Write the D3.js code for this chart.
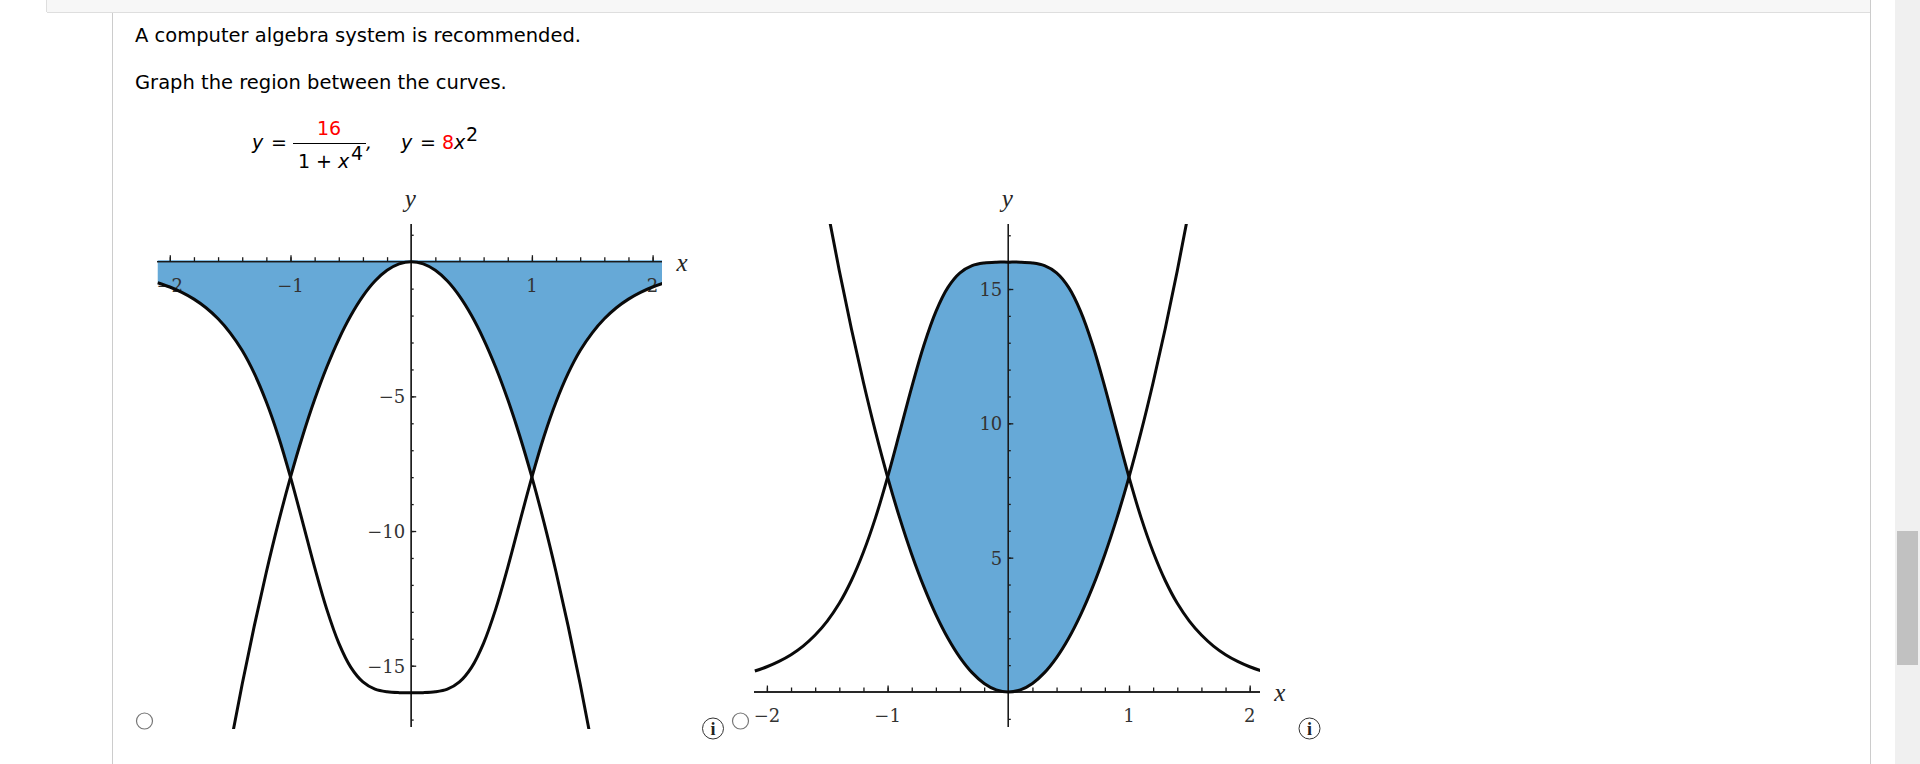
<!DOCTYPE html>
<html>
<head>
<meta charset="utf-8">
<script src="https://cdn.jsdelivr.net/npm/d3@7"></script>
<style>
html, body { margin: 0; padding: 0; background: #fff; overflow: hidden; }
svg { display: block; }
.page-text { font-family: "DejaVu Sans", sans-serif; font-size: 19.5px; fill: #000; }
.math-text { font-size: 19px; }
.red { fill: #f00; }
.math-var { font-style: italic; }
.plot-label { font-family: "DejaVu Serif", serif; font-size: 18px; fill: #333; }
.axis-name { font-family: "Liberation Serif", serif; font-size: 25px; font-style: italic; fill: #262626; }
.axis path, .axis line { stroke: #1a1a1a; stroke-width: 1.3; shape-rendering: geometricPrecision; }
.axis text { display: none; }
</style>
</head>
<body>
<svg id="page" width="1920" height="764"></svg>
<script>
// values
const bellX = [-2.1, -2, -1.9, -1.8, -1.7, -1.6, -1.5, -1.4, -1.3, -1.2, -1.1, -1, -0.9, -0.8, -0.7, -0.6, -0.5, -0.4, -0.3, -0.2, -0.1, 0,
    0.1, 0.2, 0.3, 0.4, 0.5, 0.6, 0.7, 0.8, 0.9, 1, 1.1, 1.2, 1.3, 1.4, 1.5, 1.6, 1.7, 1.8, 1.9, 2, 2.1];
const bellY = [0.78, 0.94, 1.14, 1.39, 1.71, 2.12, 2.64, 3.3, 4.15, 5.21, 6.49, 8, 9.66, 11.35, 12.9, 14.16, 15.06, 15.6, 15.87, 15.97, 16, 16,
    16, 15.97, 15.87, 15.6, 15.06, 14.16, 12.9, 11.35, 9.66, 8, 6.49, 5.21, 4.15, 3.3, 2.64, 2.12, 1.71, 1.39, 1.14, 0.94, 0.78];
const parabolaX = [-1.6, -1.5, -1.4, -1.3, -1.2, -1.1, -1, -0.9, -0.8, -0.7, -0.6, -0.5, -0.4, -0.3, -0.2, -0.1, 0,
    0.1, 0.2, 0.3, 0.4, 0.5, 0.6, 0.7, 0.8, 0.9, 1, 1.1, 1.2, 1.3, 1.4, 1.5, 1.6];
const parabolaY = [20.5, 18, 15.68, 13.52, 11.52, 9.68, 8, 6.48, 5.12, 3.92, 2.88, 2, 1.28, 0.72, 0.32, 0.08, 0,
    0.08, 0.32, 0.72, 1.28, 2, 2.88, 3.92, 5.12, 6.48, 8, 9.68, 11.52, 13.52, 15.68, 18, 20.5];

const xMajorTicks = [-2, -1, 1, 2];
const xMinorTicks = [-2, -1.8, -1.6, -1.4, -1.2, -1, -0.8, -0.6, -0.4, -0.2, 0.2, 0.4, 0.6, 0.8, 1, 1.2, 1.4, 1.6, 1.8, 2];
const leftYMajor = [-5, -10, -15];
const leftYMinor = [1, -1, -2, -3, -4, -5, -6, -7, -8, -9, -10, -11, -12, -13, -14, -15, -16, -17];
const rightYMajor = [5, 10, 15];
const rightYMinor = [-1, 1, 2, 3, 4, 5, 6, 7, 8, 9, 10, 11, 12, 13, 14, 15, 16, 17];

const svg = d3.select("#page");
const minus = v => String(v).replace("-", "\u2212");

function drawPageFrame() {
    svg.append("rect").attr("x", 47).attr("y", 0).attr("width", 1823).attr("height", 12).attr("fill", "#f7f7f7");
    svg.append("line").attr("x1", 47).attr("x2", 1871).attr("y1", 12.5).attr("y2", 12.5).attr("stroke", "#dedede");
    svg.append("line").attr("x1", 46.5).attr("x2", 46.5).attr("y1", 0).attr("y2", 12).attr("stroke", "#dedede");
    svg.append("line").attr("x1", 1870.5).attr("x2", 1870.5).attr("y1", 0).attr("y2", 764).attr("stroke", "#cccccc");
    svg.append("line").attr("x1", 112.5).attr("x2", 112.5).attr("y1", 13).attr("y2", 764).attr("stroke", "#cccccc");
    svg.append("rect").attr("x", 1895).attr("y", 0).attr("width", 25).attr("height", 764).attr("fill", "#f0f0f0");
    svg.append("rect").attr("x", 1897).attr("y", 531).attr("width", 21).attr("height", 134).attr("fill", "#c1c1c1");
}

function drawQuestionText() {
    const text = (x, y, str) => svg.append("text").attr("class", "page-text").attr("x", x).attr("y", y).text(str);
    const math = (x, y, str) => text(x, y, str).classed("math-text", true);

    text(135, 42, "A computer algebra system is recommended.");
    text(135, 89, "Graph the region between the curves.");

    math(252, 149, "y").classed("math-var", true);
    math(271, 149, "=");
    math(317, 135, "16").classed("red", true);
    svg.append("line").attr("x1", 293).attr("x2", 366).attr("y1", 143.5).attr("y2", 143.5).attr("stroke", "#000");
    math(298, 168, "1");
    math(316, 168, "+");
    math(338, 168, "x").classed("math-var", true);
    math(351, 160, "4");
    math(366, 149, ",").classed("math-var", true);

    math(401, 149, "y").classed("math-var", true);
    math(420, 149, "=");
    math(442, 149, "8").classed("red", true);
    math(454, 149, "x").classed("math-var", true);
    math(466, 141, "2");
}

function drawPlot(cfg) {
    const xScale = d3.scaleLinear().domain([-1, 1]).range([cfg.x0 - cfg.xUnit, cfg.x0 + cfg.xUnit]);
    const yScale = d3.scaleLinear().domain(cfg.yRefDomain).range(cfg.yRefRange);
    const g = svg.append("g");

    const clipId = `clip-${cfg.id}`;
    svg.append("clipPath").attr("id", clipId).append("rect")
    .attr("x", cfg.left).attr("y", 224)
    .attr("width", cfg.right - cfg.left).attr("height", 505);

    // shaded region
    const area = d3.area().x(d => xScale(d.x)).y0(d => yScale(d.y0)).y1(d => yScale(d.y1));
    g.append("path").datum(cfg.region).attr("fill", "#66a9d7").attr("clip-path", `url(#${clipId})`).attr("d", area);

    // tick labels go under the curves
    g.selectAll(".x-label").data(xMajorTicks).join("text").attr("class", "plot-label")
    .attr("x", d => xScale(d)).attr("y", cfg.xLabelY).attr("text-anchor", "middle").text(minus);
    g.selectAll(".y-label").data(cfg.yMajor).join("text").attr("class", "plot-label")
    .attr("x", cfg.x0 - 6).attr("y", d => yScale(d) + 7).attr("text-anchor", "end").text(minus);

    const xAxisY = yScale(0);
    const xAxisMinor = d3.axisTop(xScale).tickValues(xMinorTicks).tickSize(4.5).tickSizeOuter(0);
    const xAxisMajor = d3.axisTop(xScale).tickValues(xMajorTicks).tickSize(6.5).tickSizeOuter(0);
    const yAxisMinor = d3.axisRight(yScale).tickValues(cfg.yMinor).tickSize(2.5).tickSizeOuter(0);
    const yAxisMajor = d3.axisRight(yScale).tickValues(cfg.yMajor).tickSize(5).tickSizeOuter(0);

    [xAxisMinor, xAxisMajor].forEach(axis => {
        g.append("g").attr("class", "axis").attr("transform", `translate(0,${xAxisY})`).call(axis)
        .select(".domain").attr("d", `M${cfg.left},0H${cfg.right}`);
    });
    [yAxisMinor, yAxisMajor].forEach(axis => {
        g.append("g").attr("class", "axis").attr("transform", `translate(${cfg.x0},0)`).call(axis)
        .select(".domain").attr("d", "M0,224V727");
    });

    // the two curves
    const line = d3.line().x(d => xScale(d[0])).y(d => yScale(d[1])).curve(d3.curveCatmullRom);
    const plotLines = g.append("g").attr("clip-path", `url(#${clipId})`);
    plotLines.selectAll("path").data(cfg.curves).join("path")
    .attr("fill", "none").attr("stroke", "#0a0a0a").attr("stroke-width", 3).attr("d", line);

    // axis names
    g.append("text").attr("class", "axis-name").attr("x", cfg.x0 + cfg.xUnit * 2 + cfg.xNameGap).attr("y", xAxisY + 9).text("x");
    g.append("text").attr("class", "axis-name").attr("x", cfg.x0 - 1).attr("y", 207).attr("text-anchor", "middle").text("y");
}

function drawRadio(cx, cy) {
    svg.append("circle").attr("cx", cx).attr("cy", cy).attr("r", 8)
    .attr("fill", "#fff").attr("stroke", "#767676").attr("stroke-width", 1.2);
}

function drawInfo(cx, cy) {
    svg.append("circle").attr("cx", cx).attr("cy", cy).attr("r", 10.5)
    .attr("fill", "#fff").attr("stroke", "#333").attr("stroke-width", 1);
    svg.append("text").attr("x", cx).attr("y", cy + 6).attr("text-anchor", "middle")
    .attr("font-family", "Liberation Serif, serif").attr("font-weight", "bold").attr("font-size", 18)
    .attr("fill", "#222").text("i");
}

const bellPairs = bellX.map((x, i) => [x, bellY[i]]);
const parabolaPairs = parabolaX.map((x, i) => [x, parabolaY[i]]);
const lowerEnvelope = bellX.map((x, i) => {
    const j = parabolaX.indexOf(x);
    return { x, low: j < 0 ? bellY[i] : Math.min(bellY[i], parabolaY[j]), high: bellY[i] };
});

drawPageFrame();
drawQuestionText();

drawPlot({
    id: "left", x0: 411.2, xUnit: 120.7, left: 157, right: 662, xNameGap: 24,
    yRefDomain: [0, -15], yRefRange: [261.7, 665.7], xLabelY: 292,
    yMajor: leftYMajor, yMinor: leftYMinor,
    curves: [bellPairs.map(d => [d[0], -d[1]]), parabolaPairs.map(d => [d[0], -d[1]])],
    region: lowerEnvelope.map(d => ({ x: d.x, y0: 0.05, y1: -d.low }))
});

drawPlot({
    id: "right", x0: 1008.3, xUnit: 120.7, left: 754, right: 1260, xNameGap: 24.5,
    yRefDomain: [0, 15], yRefRange: [692, 289], xLabelY: 722,
    yMajor: rightYMajor, yMinor: rightYMinor,
    curves: [bellPairs, parabolaPairs],
    region: lowerEnvelope.filter(d => Math.abs(d.x) <= 1).map(d => ({ x: d.x, y0: d.low, y1: d.high }))
});

drawRadio(144.5, 721);
drawRadio(740.5, 721);
drawInfo(713, 728.5);
drawInfo(1309.5, 728.5);
</script>
</body>
</html>
